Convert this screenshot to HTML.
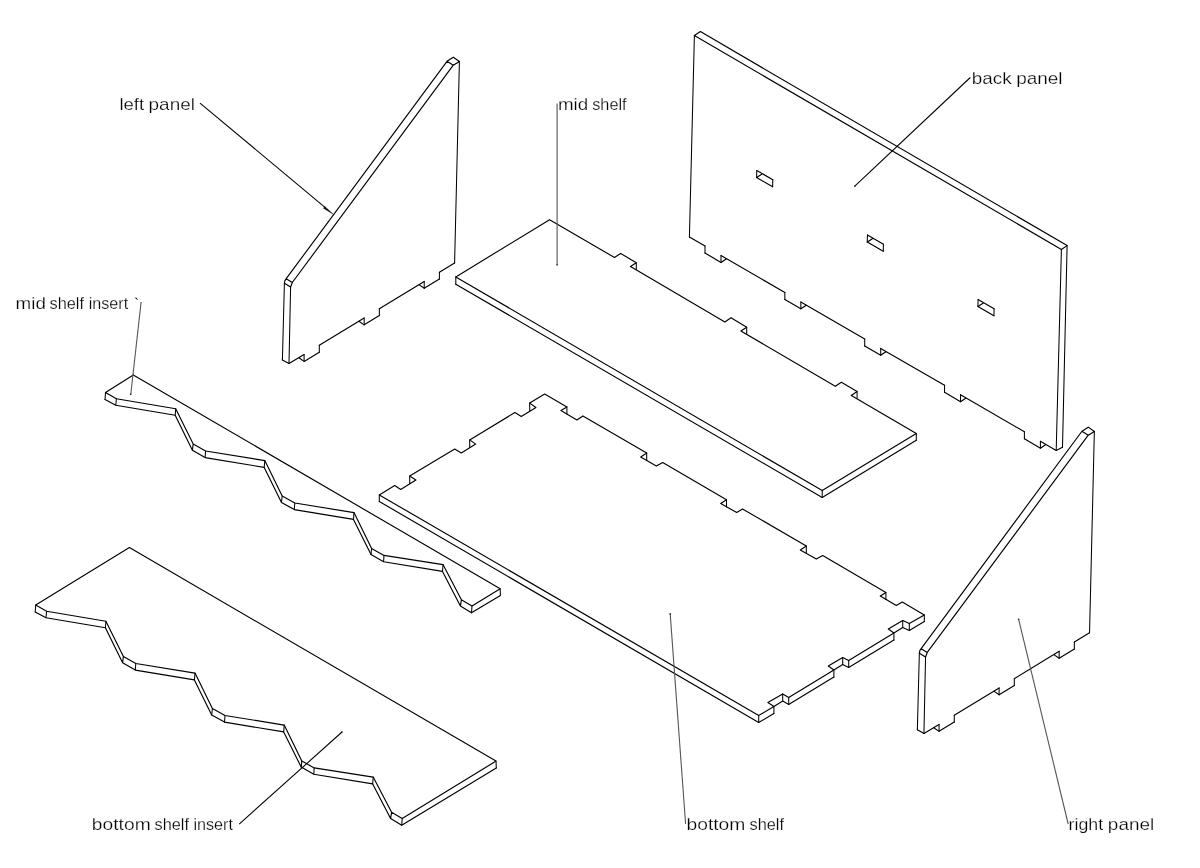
<!DOCTYPE html>
<html lang="en">
<head>
<meta charset="utf-8">
<title>Shelf exploded view</title>
<style>
html, body { margin: 0; padding: 0; background: #fff; }
body { width: 1200px; height: 868px; overflow: hidden; }
svg { display: block; }
.lbl { filter: grayscale(1); }
</style>
</head>
<body>
<svg width="1200" height="868" viewBox="0 0 1200 868">
<rect width="1200" height="868" fill="#fff"/>
<g fill="none" stroke="#000" stroke-width="1.15" stroke-linejoin="round" stroke-linecap="round">
<path d="M447.00 61.30 L453.30 57.20 L459.40 61.50 L453.30 65.20 L447.00 61.30 M447.00 61.30 L286.20 278.70 M453.30 65.20 L292.30 282.50 M286.20 278.70 L292.30 282.50 L290.60 287.00 L284.40 283.20 M290.60 287.00 L284.40 283.20 L284.90 280.60 L286.20 278.70 M282.40 359.90 L289.00 363.50 M298.80 357.75 L304.10 361.40 M358.85 321.20 L364.15 324.85 M418.90 284.65 L424.20 288.30 M289.00 363.50 L304.10 354.50 M304.10 361.40 L319.30 352.15 M319.30 345.25 L364.15 317.95 M364.15 324.85 L379.35 315.60 M379.35 308.70 L424.20 281.40 M424.20 288.30 L439.40 279.05 M439.40 272.15 L454.60 262.90 M1081.95 431.25 L1088.25 427.15 L1094.35 431.45 L1088.25 435.15 L1081.95 431.25 M1081.95 431.25 L921.15 648.65 M1088.25 435.15 L927.25 652.45 M921.15 648.65 L927.25 652.45 L925.55 656.95 L919.35 653.15 M925.55 656.95 L919.35 653.15 L919.85 650.55 L921.15 648.65 M917.35 729.85 L923.95 733.45 M933.75 727.70 L939.05 731.35 M993.80 691.15 L999.10 694.80 M1053.85 654.60 L1059.15 658.25 M923.95 733.45 L939.05 724.45 M939.05 731.35 L954.25 722.10 M954.25 715.20 L999.10 687.90 M999.10 694.80 L1014.30 685.55 M1014.30 678.65 L1059.15 651.35 M1059.15 658.25 L1074.35 649.00 M1074.35 642.10 L1089.55 632.85 M455.80 276.90 L549.60 219.70 L614.50 257.50 L620.60 253.40 L636.30 262.80 M636.30 262.80 L630.50 266.60 M630.50 266.60 L724.90 321.90 L731.00 317.80 L746.70 327.20 M746.70 327.20 L740.90 331.00 M740.90 331.00 L835.30 386.30 L841.40 382.20 L857.10 391.60 M857.10 391.60 L851.30 395.40 M851.30 395.40 L916.30 433.50 M916.30 440.30 L822.20 497.50 L455.80 284.20 M455.80 276.90 L822.20 490.60 L916.30 433.50 M694.40 35.60 L700.40 31.60 L1067.10 245.60 L1061.40 249.50 L694.40 35.60 M721.00 262.40 L726.50 258.70 M800.85 308.85 L806.35 305.15 M880.70 355.30 L886.20 351.60 M960.55 401.75 L966.05 398.05 M1040.40 448.20 L1045.90 444.50 M689.40 237.00 L705.00 246.00 M705.00 253.00 L721.00 262.40 M721.00 255.50 L784.85 292.45 M784.85 299.45 L800.85 308.85 M800.85 301.95 L864.70 338.90 M864.70 345.90 L880.70 355.30 M880.70 348.40 L944.55 385.35 M944.55 392.35 L960.55 401.75 M960.55 394.85 L1024.40 431.80 M1024.40 438.80 L1040.40 448.20 M1040.40 441.30 L1056.20 450.50 M1062.50 447.20 L1056.20 450.50 M756.60 177.50 L772.60 186.80 M772.80 179.70 L756.80 170.50 M756.60 177.50 L762.10 174.10 M867.25 242.00 L883.25 251.30 M883.45 244.20 L867.45 235.00 M867.25 242.00 L872.75 238.60 M977.90 306.50 L993.90 315.80 M994.10 308.70 L978.10 299.50 M977.90 306.50 L983.40 303.10 M379.30 494.90 L394.70 485.50 L400.70 489.50 L415.90 480.10 L409.70 476.10 M409.70 476.10 L454.70 449.10 L461.30 452.90 L475.70 444.10 L469.70 439.90 M469.70 439.90 L514.90 412.50 L521.30 416.50 L535.90 407.50 L529.70 403.10 M529.70 403.10 L544.70 394.10 L566.90 406.90 M566.90 406.90 L560.90 410.50 L576.90 419.90 L582.90 415.90 L646.70 453.10 M646.70 453.10 L640.70 457.10 L656.30 466.10 L662.70 462.50 L726.50 499.70 M726.50 499.70 L720.70 503.50 L736.70 512.50 L742.50 509.00 L806.30 545.90 M806.30 545.90 L800.30 549.90 L816.30 559.10 L822.70 555.50 L885.90 592.50 M885.90 592.50 L880.30 596.10 L896.30 605.50 L902.30 601.90 L924.30 614.90 M924.30 621.50 L909.30 630.50 M909.30 623.50 L924.30 614.90 M909.30 623.50 L902.70 620.50 M902.70 627.50 L909.30 630.50 M902.70 620.50 L888.30 629.10 L893.90 632.90 L902.70 627.50 M893.90 632.90 L848.70 660.50 M848.70 667.50 L893.90 640.10 M848.70 660.50 L842.70 657.50 M842.70 664.50 L848.70 667.50 M842.70 657.50 L828.30 666.10 L833.90 669.90 L842.70 664.50 M833.90 669.90 L788.70 697.50 M788.70 704.50 L833.90 677.10 M788.70 697.50 L782.70 693.90 M782.70 701.10 L788.70 704.50 M782.70 693.90 L767.90 702.50 L773.90 706.50 L782.70 701.10 M773.90 706.50 L758.70 715.50 M758.70 722.50 L773.90 713.50 M379.30 494.90 L758.70 715.50 M379.30 501.50 L758.70 722.50 M133.30 374.90 L105.50 392.60 L116.40 398.70 L175.70 408.70 L193.20 443.90 L205.60 451.00 L264.80 460.60 L282.20 496.00 L294.80 503.00 L354.00 512.60 L371.60 548.40 L384.00 555.40 L443.00 564.60 L461.40 599.80 L472.00 605.90 L500.20 588.70 L133.30 374.90 M105.00 399.50 L115.80 405.30 L175.20 415.30 L192.40 450.20 L205.10 457.60 L264.20 467.40 L281.50 502.40 L294.30 509.60 L353.50 519.40 L371.00 554.60 L383.60 561.80 L442.50 571.40 L460.40 605.90 L471.50 612.80 L500.40 595.50 M193.20 443.90 L192.40 450.20 M461.40 599.80 L460.40 605.90 M129.40 547.60 L35.70 605.10 L46.60 611.20 L105.90 621.20 L123.40 656.40 L135.80 663.50 L195.00 673.10 L212.40 708.50 L225.00 715.50 L284.20 725.10 L301.80 760.90 L314.20 767.90 L373.20 777.10 L391.60 812.30 L402.20 818.40 L496.00 761.10 L129.40 547.60 M35.20 612.00 L46.00 617.80 L105.40 627.80 L122.60 662.70 L135.30 670.10 L194.40 679.90 L211.70 714.90 L224.50 722.10 L283.70 731.90 L301.20 767.10 L313.80 774.30 L372.70 783.90 L390.60 818.40 L401.70 825.30 L496.30 767.90 M123.40 656.40 L122.60 662.70 M391.60 812.30 L390.60 818.40"/>
</g>
<g fill="none" stroke="#000" stroke-width="1.04" stroke-linejoin="round" stroke-linecap="round">
<path d="M284.40 283.20 L282.40 359.90 M289.00 363.50 L290.60 287.00 M459.40 61.50 L454.60 262.90 M304.10 354.50 L304.10 361.40 M319.30 352.15 L319.30 345.25 M364.15 317.95 L364.15 324.85 M379.35 315.60 L379.35 308.70 M424.20 281.40 L424.20 288.30 M439.40 279.05 L439.40 272.15 M919.35 653.15 L917.35 729.85 M923.95 733.45 L925.55 656.95 M1094.35 431.45 L1089.55 632.85 M939.05 724.45 L939.05 731.35 M954.25 722.10 L954.25 715.20 M999.10 687.90 L999.10 694.80 M1014.30 685.55 L1014.30 678.65 M1059.15 651.35 L1059.15 658.25 M1074.35 649.00 L1074.35 642.10 M455.80 284.20 L455.80 276.90 M636.30 262.80 L636.30 269.40 M746.70 327.20 L746.70 333.80 M857.10 391.60 L857.10 398.20 M916.30 433.50 L916.30 440.30 M822.20 490.60 L822.20 497.50 M694.40 35.60 L689.40 237.00 M705.00 246.00 L705.00 253.00 M721.00 262.40 L721.00 255.50 M784.85 292.45 L784.85 299.45 M800.85 308.85 L800.85 301.95 M864.70 338.90 L864.70 345.90 M880.70 355.30 L880.70 348.40 M944.55 385.35 L944.55 392.35 M960.55 401.75 L960.55 394.85 M1024.40 431.80 L1024.40 438.80 M1040.40 448.20 L1040.40 441.30 M1056.20 450.50 L1061.40 249.50 M1067.10 245.60 L1062.50 447.20 M756.80 170.50 L756.60 177.50 M772.60 186.80 L772.80 179.70 M867.45 235.00 L867.25 242.00 M883.25 251.30 L883.45 244.20 M978.10 299.50 L977.90 306.50 M993.90 315.80 L994.10 308.70 M379.30 501.50 L379.30 494.90 M409.70 476.10 L409.70 483.70 M469.70 439.90 L469.70 447.50 M529.70 403.10 L529.70 410.90 M566.90 406.90 L566.90 413.90 M646.70 453.10 L646.70 460.50 M726.50 499.70 L726.50 506.70 M806.30 545.90 L806.30 552.90 M885.90 592.50 L885.90 599.50 M924.30 614.90 L924.30 621.50 M909.30 630.50 L909.30 623.50 M902.70 620.50 L902.70 627.50 M893.90 640.10 L893.90 632.90 M848.70 660.50 L848.70 667.50 M842.70 657.50 L842.70 664.50 M833.90 677.10 L833.90 669.90 M788.70 697.50 L788.70 704.50 M782.70 693.90 L782.70 701.10 M773.90 713.50 L773.90 706.50 M758.70 715.50 L758.70 722.50 M500.40 595.50 L500.20 588.70 M105.50 392.60 L105.00 399.50 M116.40 398.70 L115.80 405.30 M175.70 408.70 L175.20 415.30 M205.60 451.00 L205.10 457.60 M264.80 460.60 L264.20 467.40 M282.20 496.00 L281.50 502.40 M294.80 503.00 L294.30 509.60 M354.00 512.60 L353.50 519.40 M371.60 548.40 L371.00 554.60 M384.00 555.40 L383.60 561.80 M443.00 564.60 L442.50 571.40 M472.00 605.90 L471.50 612.80 M496.30 767.90 L496.00 761.10 M35.70 605.10 L35.20 612.00 M46.60 611.20 L46.00 617.80 M105.90 621.20 L105.40 627.80 M135.80 663.50 L135.30 670.10 M195.00 673.10 L194.40 679.90 M212.40 708.50 L211.70 714.90 M225.00 715.50 L224.50 722.10 M284.20 725.10 L283.70 731.90 M301.80 760.90 L301.20 767.10 M314.20 767.90 L313.80 774.30 M373.20 777.10 L372.70 783.90 M402.20 818.40 L401.70 825.30"/>
</g>
<g fill="none" stroke="#000" stroke-width="1.08" stroke-linecap="butt">
<path d="M200.00 103.10 L325.00 207.30"/>
<path d="M970.30 77.50 L854.80 186.20"/>
<path d="M239.20 824.10 L342.00 732.00"/>
</g>
<g fill="none" stroke="#555" stroke-width="1.1" stroke-linecap="butt">
<path d="M557.10 103.50 L557.10 265.00"/>
<path d="M141.10 302.00 L130.80 394.30"/>
<path d="M685.60 824.00 L670.20 613.90"/>
<path d="M1068.20 824.00 L1018.65 619.30"/>
</g>
<g fill="#111">
<circle cx="557.1" cy="265.0" r="0.8"/>
<circle cx="854.8" cy="186.2" r="0.8"/>
<circle cx="130.8" cy="394.3" r="0.8"/>
<circle cx="342.0" cy="732.0" r="0.8"/>
<circle cx="670.2" cy="613.9" r="0.8"/>
<circle cx="1018.6" cy="619.3" r="0.8"/>
<path d="M333.3 214.3 L323.4 208.2 L324.8 206.5 Z" fill="#000" stroke="#000" stroke-width="0.35" stroke-linejoin="round"/>
</g>
<g class="lbl" font-family="'Liberation Sans', sans-serif" font-size="17" fill="#000" stroke="#fff" stroke-width="0.25">
<text y="110.0"><tspan x="119.41" textLength="24.80" lengthAdjust="spacingAndGlyphs">left</tspan> <tspan x="148.59" textLength="46.35" lengthAdjust="spacingAndGlyphs">panel</tspan></text>
<text y="110.0"><tspan x="557.90" textLength="30.28" lengthAdjust="spacingAndGlyphs">mid</tspan> <tspan x="592.22" textLength="34.40" lengthAdjust="spacingAndGlyphs">shelf</tspan></text>
<text y="83.9"><tspan x="971.79" textLength="39.92" lengthAdjust="spacingAndGlyphs">back</tspan> <tspan x="1016.19" textLength="46.35" lengthAdjust="spacingAndGlyphs">panel</tspan></text>
<text y="308.9"><tspan x="15.60" textLength="30.28" lengthAdjust="spacingAndGlyphs">mid</tspan> <tspan x="49.52" textLength="34.40" lengthAdjust="spacingAndGlyphs">shelf</tspan> <tspan x="88.65" textLength="39.52" lengthAdjust="spacingAndGlyphs">insert</tspan> <tspan x="133.75" dy="0.9" textLength="5.67" lengthAdjust="spacingAndGlyphs">`</tspan></text>
<text y="830.0"><tspan x="91.87" textLength="58.85" lengthAdjust="spacingAndGlyphs">bottom</tspan> <tspan x="154.52" textLength="34.40" lengthAdjust="spacingAndGlyphs">shelf</tspan> <tspan x="193.45" textLength="39.52" lengthAdjust="spacingAndGlyphs">insert</tspan></text>
<text y="830.0"><tspan x="686.47" textLength="58.85" lengthAdjust="spacingAndGlyphs">bottom</tspan> <tspan x="749.52" textLength="34.40" lengthAdjust="spacingAndGlyphs">shelf</tspan></text>
<text y="830.0"><tspan x="1068.56" textLength="34.53" lengthAdjust="spacingAndGlyphs">right</tspan> <tspan x="1107.89" textLength="46.35" lengthAdjust="spacingAndGlyphs">panel</tspan></text>
</g>
</svg>
</body>
</html>
